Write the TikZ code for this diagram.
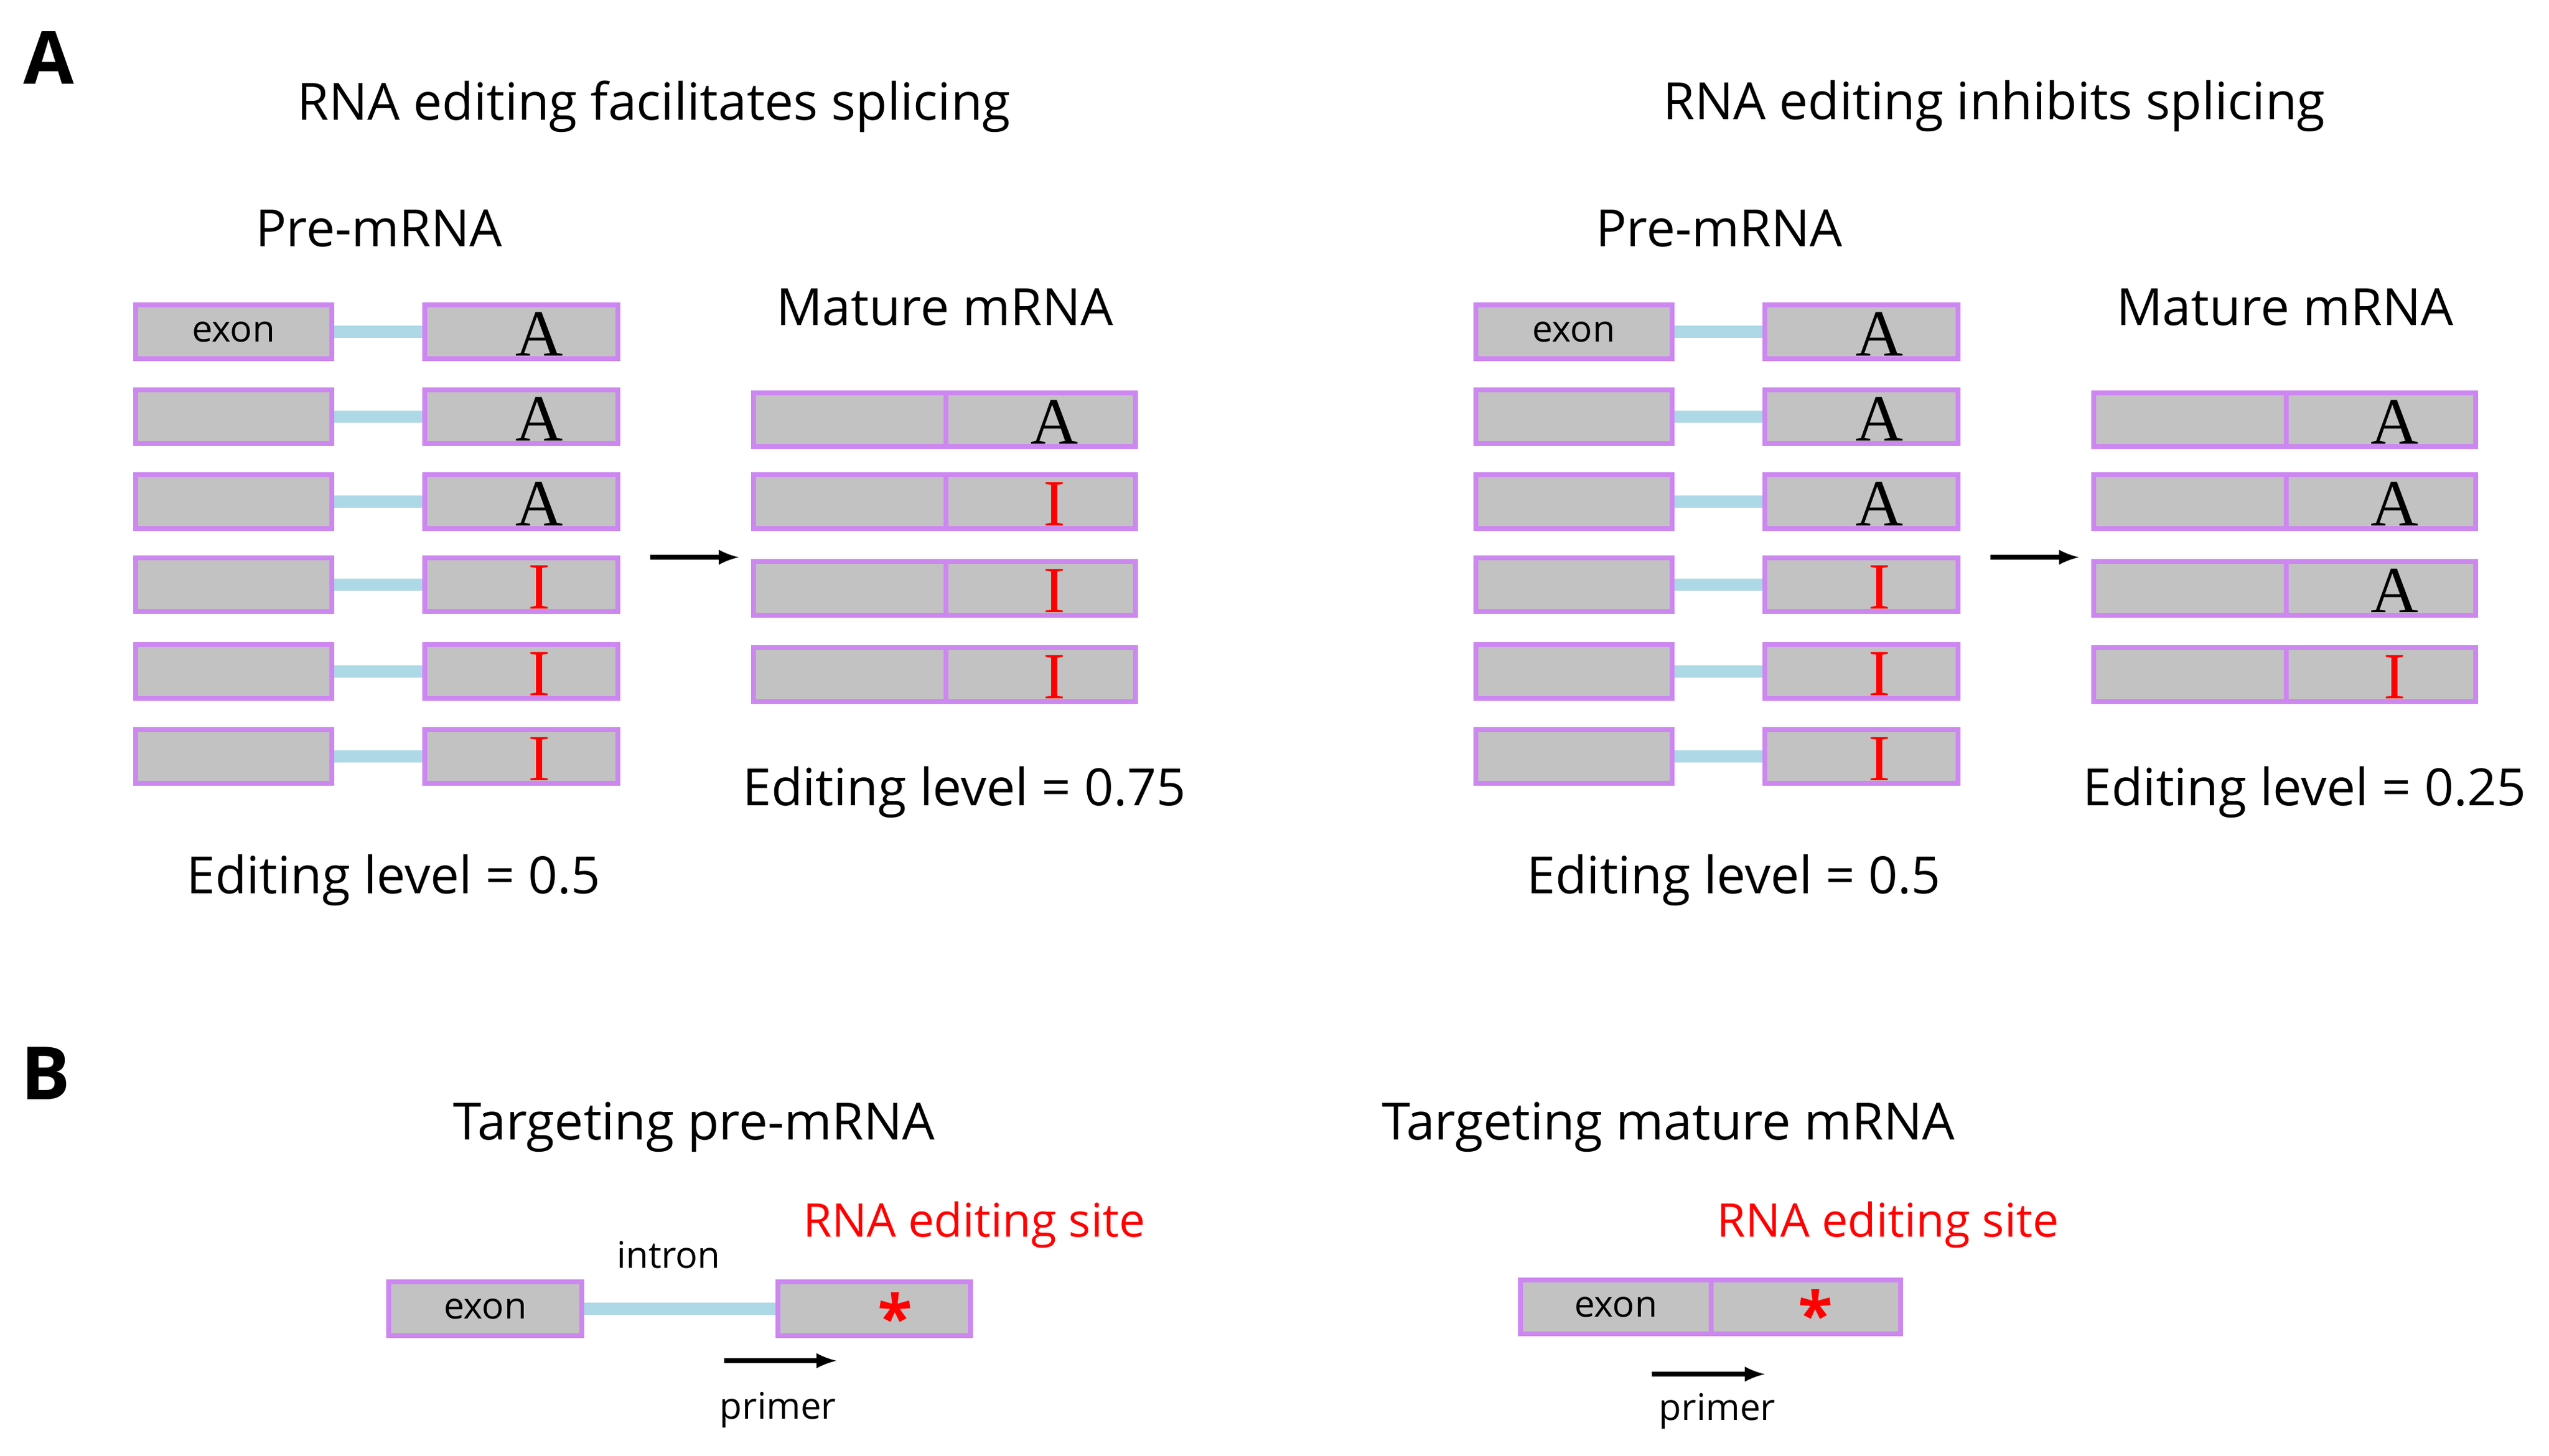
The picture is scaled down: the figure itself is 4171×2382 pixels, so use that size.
\documentclass[tikz,border=0pt]{standalone}
\usepackage{fontspec}
\setmainfont{Open Sans}
\newfontfamily\serifA{Liberation Serif}
\begin{document}
\begin{tikzpicture}[x=0.25pt,y=-0.25pt,
  box/.style={draw=violet!45!magenta!60!white, fill=gray!50, line width=2pt},
  intr/.style={draw=cyan!25!gray!30!white, line width=5pt},
  big/.style={font=\fontsize{21}{24}\selectfont},
  lab/.style={font=\fontsize{15}{18}\selectfont},
  let/.style={font=\serifA\fontsize{27}{30}\selectfont},
  arr/.style={-latex, line width=1.8pt},
  pl/.style={font=\bfseries\fontsize{30}{34}\selectfont}]
\definecolor{vbord}{RGB}{205,135,240}
\definecolor{ifill}{RGB}{173,216,230}
\tikzset{box/.append style={draw=vbord, fill=gray!48}, intr/.style={draw=ifill, line width=5pt}}
\useasboundingbox (0,0) rectangle (4171,2382);
\node[pl] (pa) at (80,94) {A};
\node[pl] (pb) at (75,1757) {B};
\foreach \ox/\tt/\ml/\mv/\ed/\ee/\side in {0/{RNA editing facilitates splicing}/{A,I,I,I}/0.75/0.5/l, 2193/{RNA editing inhibits splicing}/{A,A,A,I}/0.25/0.5/r}{
  \node[big] (t\side) at (1070+\ox,174) {\tt};
  \node[big] (p\side) at (620+\ox,374) {Pre-mRNA};
  \node[big] (m\side) at (1546+\ox,503) {Mature mRNA};
  \foreach \y/\L/\c [count=\i] in {543/A/black,682/A/black,821/A/black,957/I/red,1099/I/red,1238/I/red}{
    \node[box, minimum width=321*0.25pt, minimum height=88*0.25pt, inner sep=0pt] (e\side\i) at (382+\ox,\y) {};
    \node[box, minimum width=316*0.25pt, minimum height=88*0.25pt, inner sep=0pt] (f\side\i) at (853+\ox,\y) {};
    \draw[intr] (e\side\i.east) -- (f\side\i.west);
    \node[let, text=\c] (g\side\i) at (882+\ox,\y+4) {\L};
  }
  \node[lab] (x\side) at (e\side1) {exon};
  \foreach \y/\L [count=\i] in {687/A,821/I,963/I,1104/I}{
    \node[box, minimum width=315*0.25pt, minimum height=88*0.25pt, inner sep=0pt] (ma\side\i) at (1390+\ox,\y) {};
    \node[box, minimum width=310*0.25pt, minimum height=88*0.25pt, inner sep=0pt] (mb\side\i) at (1703+\ox,\y) {};
  }
  \coordinate (a1\side) at (1064+\ox,912);
  \coordinate (a2\side) at (1209+\ox,912);
  \draw[arr] (a1\side) -- (a2\side);
  \node[big] (lv\side) at (1578+\ox,1297) {Editing level = \mv};
  \node[big] (le\side) at (644+\ox,1441) {Editing level = \ed};
}
\foreach \y/\L/\c [count=\i] in {687/A/black,821/I/red,963/I/red,1104/I/red}{\node[let,text=\c] (ql\i) at (1725,\y+4) {\L};}
\foreach \y/\L/\c [count=\i] in {687/A/black,821/A/black,963/A/black,1104/I/red}{\node[let,text=\c] (qr\i) at (1725+2193,\y+4) {\L};}
% B
\node[big] (tb1) at (1136,1845) {Targeting pre-mRNA};
\node[big] (tb2) at (2730,1845) {Targeting mature mRNA};
\node[box, minimum width=316*0.25pt, minimum height=88*0.25pt, inner sep=0pt] (be1) at (794,2142) {};
\node[lab] at (be1) {exon};
\node[box, minimum width=315*0.25pt, minimum height=88*0.25pt, inner sep=0pt] (bf1) at (1430,2142) {};
\draw[intr] (be1.east) -- (bf1.west);
\node[lab] (in) at (1094,2054) {intron};
\node[big, text=red, font=\fontsize{19}{22}\selectfont] (rs1) at (1594,2005) {RNA editing site};
\node[text=red, font=\bfseries\fontsize{26}{26}\selectfont] (s1) at (1465,2155) {*};
\coordinate (b1a) at (1185,2227); \coordinate (b1b) at (1369,2227);
\draw[arr] (b1a) -- (b1b);
\node[lab] (pr1) at (1273,2308) {primer};
\node[box, minimum width=313*0.25pt, minimum height=88*0.25pt, inner sep=0pt] (be2) at (2644,2139) {};
\node[lab] at (be2) {exon};
\node[box, minimum width=310*0.25pt, minimum height=88*0.25pt, inner sep=0pt] (bf2) at (2955,2139) {};
\node[text=red, font=\fontsize{19}{22}\selectfont] (rs2) at (3089,2005) {RNA editing site};
\node[text=red, font=\bfseries\fontsize{26}{26}\selectfont] (s2) at (2971,2150) {*};
\coordinate (b2a) at (2703,2249); \coordinate (b2b) at (2888,2249);
\draw[arr] (b2a) -- (b2b);
\node[lab] (pr2) at (2810,2310) {primer};
\end{tikzpicture}
\end{document}
